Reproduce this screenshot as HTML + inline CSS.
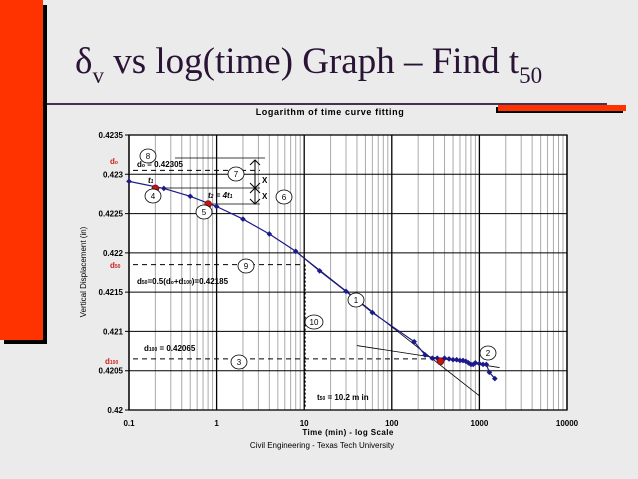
<!DOCTYPE html>
<html><head><meta charset="utf-8"><style>
body{margin:0;width:638px;height:479px;background:#ebebeb;overflow:hidden;font-family:"Liberation Sans",sans-serif;position:relative}
</style></head><body>
<div style="position:absolute;left:4px;top:5px;width:43px;height:339px;background:#000"></div>
<div style="position:absolute;left:0;top:0;width:43px;height:340px;background:#ff3300"></div>
<div style="position:absolute;left:75px;top:40px;font-family:'Liberation Serif',serif;font-size:37px;color:#2a1436;white-space:nowrap">δ<sub style="font-size:23px;vertical-align:-10px">v</sub> vs log(time) Graph – Find t<sub style="font-size:23px;vertical-align:-10px">50</sub></div>
<div style="position:absolute;left:47px;top:103px;width:560px;height:2px;background:#4a3050"></div>
<div style="position:absolute;left:496px;top:107px;width:127px;height:6px;background:#000"></div>
<div style="position:absolute;left:498px;top:105px;width:128px;height:6px;background:#ff3300"></div>
<svg id="c" width="638" height="479" style="position:absolute;left:0;top:0" font-family="Liberation Sans, sans-serif"></svg>
<script>
const times=[0.1,0.25,0.5,1,2,4,8,15,30,60,180,240,290,330,400,450,500,550,600,650,700,750,800,850,900,1000,1100,1200,1300,1500];
const disp=[0.42291,0.42282,0.42272,0.42259,0.42243,0.42224,0.42202,0.42177,0.42151,0.42124,0.42087,0.42070,0.42066,0.42066,0.42066,0.42065,0.42064,0.42064,0.42063,0.42063,0.42062,0.42060,0.42058,0.42058,0.42060,0.42059,0.42058,0.42058,0.42048,0.42040];
const redT=[0.2,0.8,360];
const redD=[0.42282,0.42262,0.42062];
const xTicks=[0.1,1,10,100,1000,10000];
const xTickLabels=["0.1","1","10","100","1000","10000"];
const yTicks=[0.42,0.4205,0.421,0.4215,0.422,0.4225,0.423,0.4235];
const yTickLabels=["0.42","0.4205","0.421","0.4215","0.422","0.4225","0.423","0.4235"];
const X0=129,X1=567,Y0=410,Y1=135;
const xs=t=>X0+(Math.log10(t)+1)/5*(X1-X0);
const ys=v=>Y0-(v-0.42)/0.0035*(Y0-Y1);
const svg=document.getElementById('c');const NS='http://www.w3.org/2000/svg';
function mk(tag,a,txt){const e=document.createElementNS(NS,tag);for(const k in a)e.setAttribute(k,a[k]);if(txt!=null)e.textContent=txt;svg.appendChild(e);return e;}
let e;
e=mk('rect',{x:X0,y:Y1,width:X1-X0,height:Y0-Y1,fill:'#fff'});


for(let d=-1;d<4;d++)for(let m=2;m<=9;m++){
e=mk('line',{x1:xs(m*Math.pow(10,d)),x2:xs(m*Math.pow(10,d)),y1:Y1,y2:Y0,stroke:'#aaa','stroke-width':1});

}
xTicks.forEach((t,i)=>{
e=mk('line',{x1:xs(t),x2:xs(t),y1:Y1,y2:Y0,stroke:'#000','stroke-width':1.3});


e=mk('text',{x:xs(t),y:Y0+16,'font-size':8,'font-weight':'bold','text-anchor':'middle'},xTickLabels[i]);

});
yTicks.forEach((v,i)=>{
e=mk('line',{x1:X0-4,x2:X1,y1:ys(v),y2:ys(v),stroke:'#000','stroke-width':1});


e=mk('text',{x:X0-6,y:ys(v)+3,'font-size':8,'font-weight':'bold','text-anchor':'end'},yTickLabels[i]);

});
e=mk('rect',{x:X0,y:Y1,width:X1-X0,height:Y0-Y1,fill:'none',stroke:'#000','stroke-width':1.3});


[[0.42305],[0.42185],[0.42065]].forEach(([v])=>{
e=mk('line',{x1:X0+4,x2:v==0.42185?xs(10.2):(v==0.42305?260:xs(360)),y1:ys(v),y2:ys(v),stroke:'#000','stroke-dasharray':'5,4','stroke-width':1});

});
e=mk('line',{x1:xs(10.2),x2:xs(10.2),y1:ys(0.42185),y2:Y0-2,stroke:'#000','stroke-dasharray':'2,2','stroke-width':1.5});


e=mk('line',{x1:xs(8),y1:ys(0.42202),x2:xs(1000),y2:ys(0.42018),stroke:'#000','stroke-width':0.8});


e=mk('line',{x1:xs(40),y1:ys(0.42082),x2:xs(1700),y2:ys(0.42054),stroke:'#000','stroke-width':0.8});


e=mk('path',{d:'M255 160V188M250 165L255 160L260 165M250 183L255 188L260 183M255 188V204M250 193L255 188L260 193M250 199L255 204L260 199',stroke:'#000',fill:'none','stroke-width':1});


e=mk('path',{d:'M155 188H260M208 204H260M175 158H265',stroke:'#000','stroke-width':0.8});


e=mk('polyline',{points:times.map((t,i)=>xs(t)+','+ys(disp[i])).join(' '),fill:'none',stroke:'#1a1a8c','stroke-width':1.2});


times.forEach((t,i)=>{
e=mk('rect',{x:xs(t)-2,y:ys(disp[i])-2,width:4,height:4,fill:'#1a1a8c',transform:`rotate(45 ${xs(t)} ${ys(disp[i])})`});

});
redT.forEach((t,i)=>{
e=mk('circle',{cx:xs(t),cy:ys(redD[i]),r:3.5,fill:'#c0181a',stroke:'#600',"stroke-width":0.6});

});
[[8,148,156],[7,236,174],[4,153,196],[6,284,197],[5,204,212],[9,246,266],[1,356,300],[10,314,322],[2,488,353],[3,239,362]].forEach(([n,x,y])=>{
e=mk('ellipse',{cx:x,cy:y,rx:n==10?9:8,ry:7,fill:'#fff',stroke:'#000','stroke-width':0.8});


e=mk('text',{x:x,y:y+3,'font-size':8,'text-anchor':'middle'},n);

});
function lbl(x,y,t,o){e=mk('text',Object.assign({x:x,y:y,'font-size':8,'font-weight':'bold'},o||{}),null);e.innerHTML=t;}
lbl(137,167,'d<tspan font-size="5">o</tspan> = 0.42305');
lbl(110,164,'d<tspan font-size="5">o</tspan>',{fill:'#d02020'});
lbl(110,268,'d<tspan font-size="5">50</tspan>',{fill:'#d02020'});
lbl(105,364,'d<tspan font-size="5">100</tspan>',{fill:'#d02020'});
lbl(148,183,'t<tspan font-size="5">1</tspan>',{'font-style':'italic'});
lbl(208,198,'t<tspan font-size="5">2</tspan> = 4t<tspan font-size="5">1</tspan>',{'font-style':'italic'});
lbl(262,183,'X');lbl(262,199,'X');
lbl(137,284,'d<tspan font-size="5">50</tspan>=0.5(d<tspan font-size="5">o</tspan>+d<tspan font-size="5">100</tspan>)=0.42185');
lbl(144,351,'d<tspan font-size="5">100</tspan> = 0.42065');
lbl(317,400,'t<tspan font-size="5">50</tspan> = 10.2 m in');
e=mk('text',{x:330,y:115,'font-size':9,'font-weight':'bold','text-anchor':'middle','letter-spacing':'0.6'},'Logarithm of time curve fitting');


e=mk('text',{x:348,y:435,'font-size':8,'font-weight':'bold','text-anchor':'middle','letter-spacing':'0.4'},'Time (min) - log Scale');


e=mk('text',{x:86,y:272,'font-size':8,'text-anchor':'middle',transform:'rotate(-90 86 272)'},'Vertical Displacement (in)');


e=mk('text',{x:322,y:448,'font-size':8,'text-anchor':'middle'},'Civil Engineering - Texas Tech University');


</script>
</body></html>
